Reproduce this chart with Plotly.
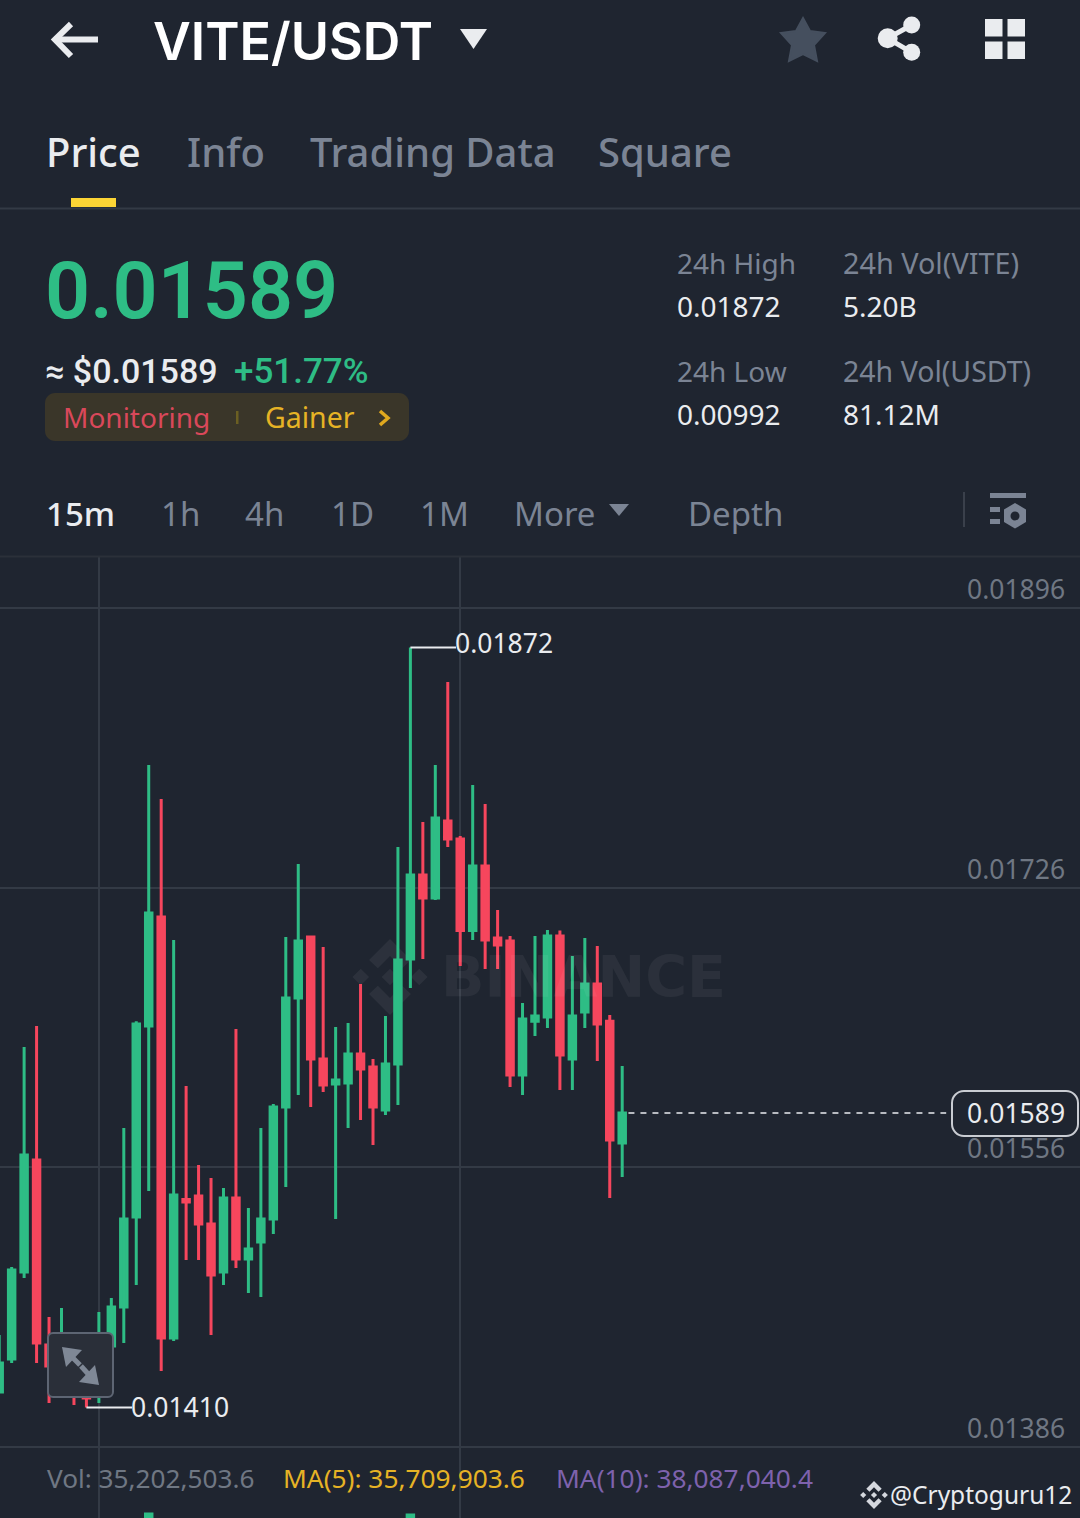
"""
VITE/USDT 15m candles, Binance app screen
"""
import plotly.graph_objects as go

W, H = 1080, 1518
BG = "#1f2530"
GREEN = "#2EBD85"
RED = "#F6465D"
WHITE = "#EAECEF"
GREY = "#7b8494"
FONT = "Noto Sans"
NUM = "Roboto"

opens = [0.014195, 0.014395, 0.014924, 0.015605, 0.014480, 0.014316, 0.014340, 0.014316, 0.014170, 0.014474,
         0.014711, 0.015259, 0.016419, 0.017082, 0.014523, 0.015365, 0.015386, 0.015216, 0.014924, 0.015374,
         0.015003, 0.015107, 0.015247, 0.015927, 0.016590, 0.016960, 0.016219, 0.016067, 0.016073, 0.016249,
         0.016170, 0.015909, 0.016188, 0.016827, 0.017337, 0.017197, 0.017666, 0.017556, 0.017000, 0.017392,
         0.016954, 0.016936, 0.016122, 0.016449, 0.016474, 0.016966, 0.016219, 0.016505, 0.016675, 0.016449,
         0.015708]
highs = [0.014541, 0.014955, 0.016292, 0.016419, 0.014651, 0.014705, 0.014438, 0.014377, 0.014681, 0.014766,
         0.015800, 0.016449, 0.018006, 0.017799, 0.016942, 0.016055, 0.015575, 0.015496, 0.015435, 0.016401,
         0.015313, 0.015800, 0.015945, 0.016960, 0.017404, 0.016960, 0.016900, 0.016413, 0.016437, 0.016675,
         0.016219, 0.016480, 0.017507, 0.018720, 0.017660, 0.018006, 0.018510, 0.017574, 0.017884, 0.017769,
         0.017125, 0.016966, 0.016559, 0.016966, 0.017003, 0.017000, 0.016845, 0.016954, 0.016906, 0.016486,
         0.016176]
lows = [0.014195, 0.014371, 0.014888, 0.014371, 0.014128, 0.014219, 0.014116, 0.014100, 0.014128, 0.014450,
        0.014492, 0.014845, 0.015417, 0.014322, 0.014505, 0.014997, 0.014997, 0.014541, 0.014845, 0.014949,
        0.014797, 0.014772, 0.015155, 0.015441, 0.016000, 0.015927, 0.016018, 0.015247, 0.015800, 0.015848,
        0.015696, 0.015878, 0.015939, 0.016650, 0.016827, 0.017185, 0.017507, 0.016784, 0.016942, 0.016766,
        0.016766, 0.016049, 0.016000, 0.016359, 0.016407, 0.016030, 0.016030, 0.016407, 0.016207, 0.015374,
        0.015502]
closes = [0.014371, 0.014936, 0.015635, 0.014492, 0.014353, 0.014480, 0.014195, 0.014158, 0.014480, 0.014711,
          0.015247, 0.016431, 0.017106, 0.014523, 0.015392, 0.015350, 0.015216, 0.014906, 0.015374, 0.015003,
          0.015064, 0.015247, 0.015927, 0.016590, 0.016936, 0.016219, 0.016061, 0.016091, 0.016249, 0.016158,
          0.015927, 0.016188, 0.016821, 0.017337, 0.017197, 0.017684, 0.017556, 0.017000, 0.017392, 0.016942,
          0.016912, 0.016122, 0.016462, 0.016480, 0.016966, 0.016243, 0.016480, 0.016675, 0.016431, 0.015727,
          0.015890]
candle_x = list(range(len(opens)))

price_ticks = [0.01896, 0.01726, 0.01556, 0.01386]
time_ticks = [8, 37]
last_price = 0.01589
high_price, high_x = 0.01872, 33
low_price, low_x = 0.01410, 7

vol_x = [12, 33]
vol_y = [726e6, 722e6]

tabs = ["Price", "Info", "Trading Data", "Square"]
tab_x = [45, 186, 309, 597]
periods = ["15m", "1h", "4h", "1D", "1M", "More", "Depth"]
period_x = [45, 160, 244, 330, 419, 513, 687]
stats = [("24h High", "0.01872", 676, 263, 28), ("24h Vol(VITE)", "5.20B", 842, 263, 28.8),
         ("24h Low", "0.00992", 676, 371, 28), ("24h Vol(USDT)", "81.12M", 842, 371, 28.5)]


def px(x):
    return x / W


def py(y):
    return 1 - y / H


def text(s, x, y, size, color, anchor="left", weight=400, family=FONT):
    fig.add_annotation(xref="paper", yref="paper", x=px(x), y=py(y), text=s, showarrow=False,
                       xanchor=anchor, yanchor="middle", borderpad=0,
                       font=dict(size=size, color=color, family=family, weight=weight))


def poly(points, color, layer="above", close=True, width=0):
    path = "M " + " L ".join(f"{px(a):.5f} {py(b):.5f}" for a, b in points) + (" Z" if close else "")
    fig.add_shape(type="path", xref="paper", yref="paper", path=path, layer=layer,
                  fillcolor=color if close else "rgba(0,0,0,0)",
                  line=dict(color=color, width=width))


def rect(x0, y0, x1, y1, color, line=None, lw=0, r=0):
    if r:
        c = 0.45 * r
        path = (f"M {px(x0 + r)} {py(y0)} L {px(x1 - r)} {py(y0)} "
                f"C {px(x1 - c)} {py(y0)} {px(x1)} {py(y0 + c)} {px(x1)} {py(y0 + r)} "
                f"L {px(x1)} {py(y1 - r)} C {px(x1)} {py(y1 - c)} {px(x1 - c)} {py(y1)} {px(x1 - r)} {py(y1)} "
                f"L {px(x0 + r)} {py(y1)} C {px(x0 + c)} {py(y1)} {px(x0)} {py(y1 - c)} {px(x0)} {py(y1 - r)} "
                f"L {px(x0)} {py(y0 + r)} C {px(x0)} {py(y0 + c)} {px(x0 + c)} {py(y0)} {px(x0 + r)} {py(y0)} Z")
        fig.add_shape(type="path", xref="paper", yref="paper", path=path, fillcolor=color,
                      line=dict(color=line or color, width=lw))
    else:
        fig.add_shape(type="rect", xref="paper", yref="paper", x0=px(x0), x1=px(x1), y0=py(y0), y1=py(y1),
                      fillcolor=color, line=dict(width=0))


def circle(cx, cy, r, color):
    fig.add_shape(type="circle", xref="paper", yref="paper", x0=px(cx - r), x1=px(cx + r),
                  y0=py(cy - r), y1=py(cy + r), fillcolor=color, line=dict(width=0))


def logo(cx, cy, s, color, layer="above"):
    top = [(0, -1), (0.55, -0.45), (0.32, -0.23), (0, -0.55), (-0.32, -0.23), (-0.55, -0.45)]
    poly([(cx + a * s, cy + b * s) for a, b in top], color, layer)
    poly([(cx + a * s, cy - b * s) for a, b in top], color, layer)
    for dx in (-0.77, 0, 0.77):
        d = [(dx, -0.22), (dx + 0.22, 0), (dx, 0.22), (dx - 0.22, 0)]
        poly([(cx + a * s, cy + b * s) for a, b in d], color, layer)


fig = go.Figure()
fig.add_trace(go.Candlestick(
    x=candle_x, open=opens, high=highs, low=lows, close=closes, whiskerwidth=0,
    increasing=dict(line=dict(color=GREEN, width=3), fillcolor=GREEN),
    decreasing=dict(line=dict(color=RED, width=3), fillcolor=RED),
    hoverinfo="skip", showlegend=False))
fig.add_trace(go.Bar(x=vol_x, y=vol_y, width=0.76, marker=dict(color=GREEN, line=dict(width=0)),
                     yaxis="y2", hoverinfo="skip", showlegend=False))

fig.update_layout(
    width=W, height=H, margin=dict(l=0, r=0, t=0, b=0), paper_bgcolor=BG, plot_bgcolor=BG,
    showlegend=False, boxgap=0.257,
    xaxis=dict(range=[0.064, 86.74], domain=[0, 1], tickvals=time_ticks, showticklabels=False,
               showgrid=True, gridcolor="#333a45", gridwidth=1.5, zeroline=False, showline=False,
               rangeslider=dict(visible=False), ticks=""),
    yaxis=dict(range=[0.013429, 0.019270], domain=[0, py(557)], tickvals=price_ticks, showticklabels=False,
               showgrid=True, gridcolor="#333a45", gridwidth=1.5, zeroline=False, showline=False, ticks=""),
    yaxis2=dict(range=[700e6, 1000e6], domain=[0, 0.0415], showticklabels=False, showgrid=False,
                zeroline=False, showline=False, ticks="", anchor="x"),
)

# header
poly([(98, 39.5), (54, 39.5)], WHITE, close=False, width=6)
poly([(71, 24), (55, 39.5), (71, 56)], WHITE, close=False, width=6)
text("VITE/USDT", 152, 41, 52, "#ffffff", weight=600, family="Inter")
poly([(460, 29), (487, 29), (473.5, 49)], WHITE)
star = [(803, 18), (810, 31), (825, 33), (814, 45), (817, 61), (803, 54), (789, 61), (792, 45), (781, 33), (796, 31)]
poly(star, "#454f5e", width=2)
poly([(911.7, 25), (887.7, 38.3), (911.7, 52.3)], WHITE, close=False, width=5)
circle(911.7, 25, 8.5, WHITE)
circle(887.7, 38.3, 10, WHITE)
circle(911.7, 52.3, 8.5, WHITE)
for a, b in [(985, 19), (1007.5, 19), (985, 41.5), (1007.5, 41.5)]:
    rect(a, b, a + 17.5, b + 17.5, WHITE)

# tabs
for i, (t, x) in enumerate(zip(tabs, tab_x)):
    text(t, x, 152, 40, WHITE if i == 0 else GREY, weight=500)
rect(71, 198, 116, 207, "#FCD535")
rect(0, 207.5, W, 209.5, "#333a45")

# price block
text("0.01589", 44, 291, 79, GREEN, weight=600, family=NUM)
text("≈ $0.01589", 44, 371, 34, WHITE, weight=500, family=NUM)
text("+51.77%", 233, 371, 35, GREEN, weight=500, family=NUM)
rect(45, 393, 409, 441, "#3a3629", r=10)
text("Monitoring", 62, 417, 28, "#d9485a")
rect(236, 411, 238.5, 424, "#6b5f22")
text("Gainer", 264, 417, 28.5, "#e6b325")
poly([(380, 411), (388, 418), (380, 425)], "#e0a91e", close=False, width=3.5)
for label, value, x, y, size in stats:
    text(label, x, y, size, GREY)
    text(value, x, y + 43, 28, WHITE)

# period row
for i, (t, x) in enumerate(zip(periods, period_x)):
    text(t, x, 513, 33, WHITE if i == 0 else GREY, weight=500 if i == 0 else 400)
poly([(609, 504), (629, 504), (619, 516)], GREY)
rect(963, 492, 965, 527, "#3a404b")
rect(990, 493, 1026, 498, GREY)
rect(990, 507, 1000, 512, GREY)
rect(990, 519, 1000, 524, GREY)
poly([(1015, 503), (1026, 509.5), (1026, 522), (1015, 528.5), (1004, 522), (1004, 509.5)], GREY)
circle(1015, 516, 4.5, BG)
rect(0, 555.5, W, 557.5, "#2b3039")

# watermark
logo(390, 977, 38, "rgba(255,255,255,0.06)", layer="below")
text("BINANCE", 440, 977, 57, "rgba(255,255,255,0.055)", weight=700, family="DejaVu Sans")

# axis labels
for p in price_ticks:
    fig.add_annotation(xref="paper", yref="y", x=px(1066), y=p, text=f"{p:.5f}", showarrow=False,
                       xanchor="right", yanchor="bottom", yshift=0, borderpad=0,
                       font=dict(size=26.5, color="#6f7783", family=FONT))

# last price
fig.add_shape(type="line", xref="x", yref="y", x0=50.5, x1=76, y0=last_price, y1=last_price,
              line=dict(color=WHITE, width=1.5, dash="6px,6px"))
rect(952, 1091, 1078, 1136, BG, line="#c9ccd2", lw=2, r=12)
text(f"{last_price:.5f}", 1015.5, 1113, 26.5, WHITE, anchor="center")

# high / low markers
fig.add_shape(type="line", xref="x", yref="y", x0=high_x, x1=36.66, y0=high_price, y1=high_price,
              line=dict(color=WHITE, width=2))
fig.add_shape(type="line", xref="x", yref="y", x0=low_x, x1=10.66, y0=low_price, y1=low_price,
              line=dict(color=WHITE, width=2))
text(f"{high_price:.5f}", 454, 643, 26.5, WHITE)
text(f"{low_price:.5f}", 130, 1407, 26.5, WHITE)

# expand button
rect(48, 1333, 113, 1397, "#2a2f39", line="#5d6573", lw=2, r=5)
poly([(62, 1347), (82, 1350), (66, 1367)], "#7f8896")
poly([(99, 1385), (79, 1382), (95, 1365)], "#7f8896")
poly([(71, 1356), (80, 1365)], "#7f8896", close=False, width=5)
poly([(81, 1366), (90, 1376)], "#7f8896", close=False, width=5)

# volume legend
text("Vol: 35,202,503.6", 46, 1478, 26.2, "#6f7783")
text("MA(5): 35,709,903.6", 282, 1478, 26.3, "#e6b325")
text("MA(10): 38,087,040.4", 555, 1478, 26.3, "#7e62ad")
logo(874, 1495, 14, "#d5d8de")
text("@Cryptoguru12", 889, 1494, 24.5, WHITE)
fig.add_annotation(xref="paper", yref="paper", x=px(1066), y=py(1509), text="810M", showarrow=False,
                   xanchor="right", yanchor="top", font=dict(size=26.5, color="#6f7783", family=FONT))

fig.write_html("out.html", config=dict(displayModeBar=False, responsive=False),
               post_script="document.body.style.margin='0';document.body.style.background='" + BG + "';")
